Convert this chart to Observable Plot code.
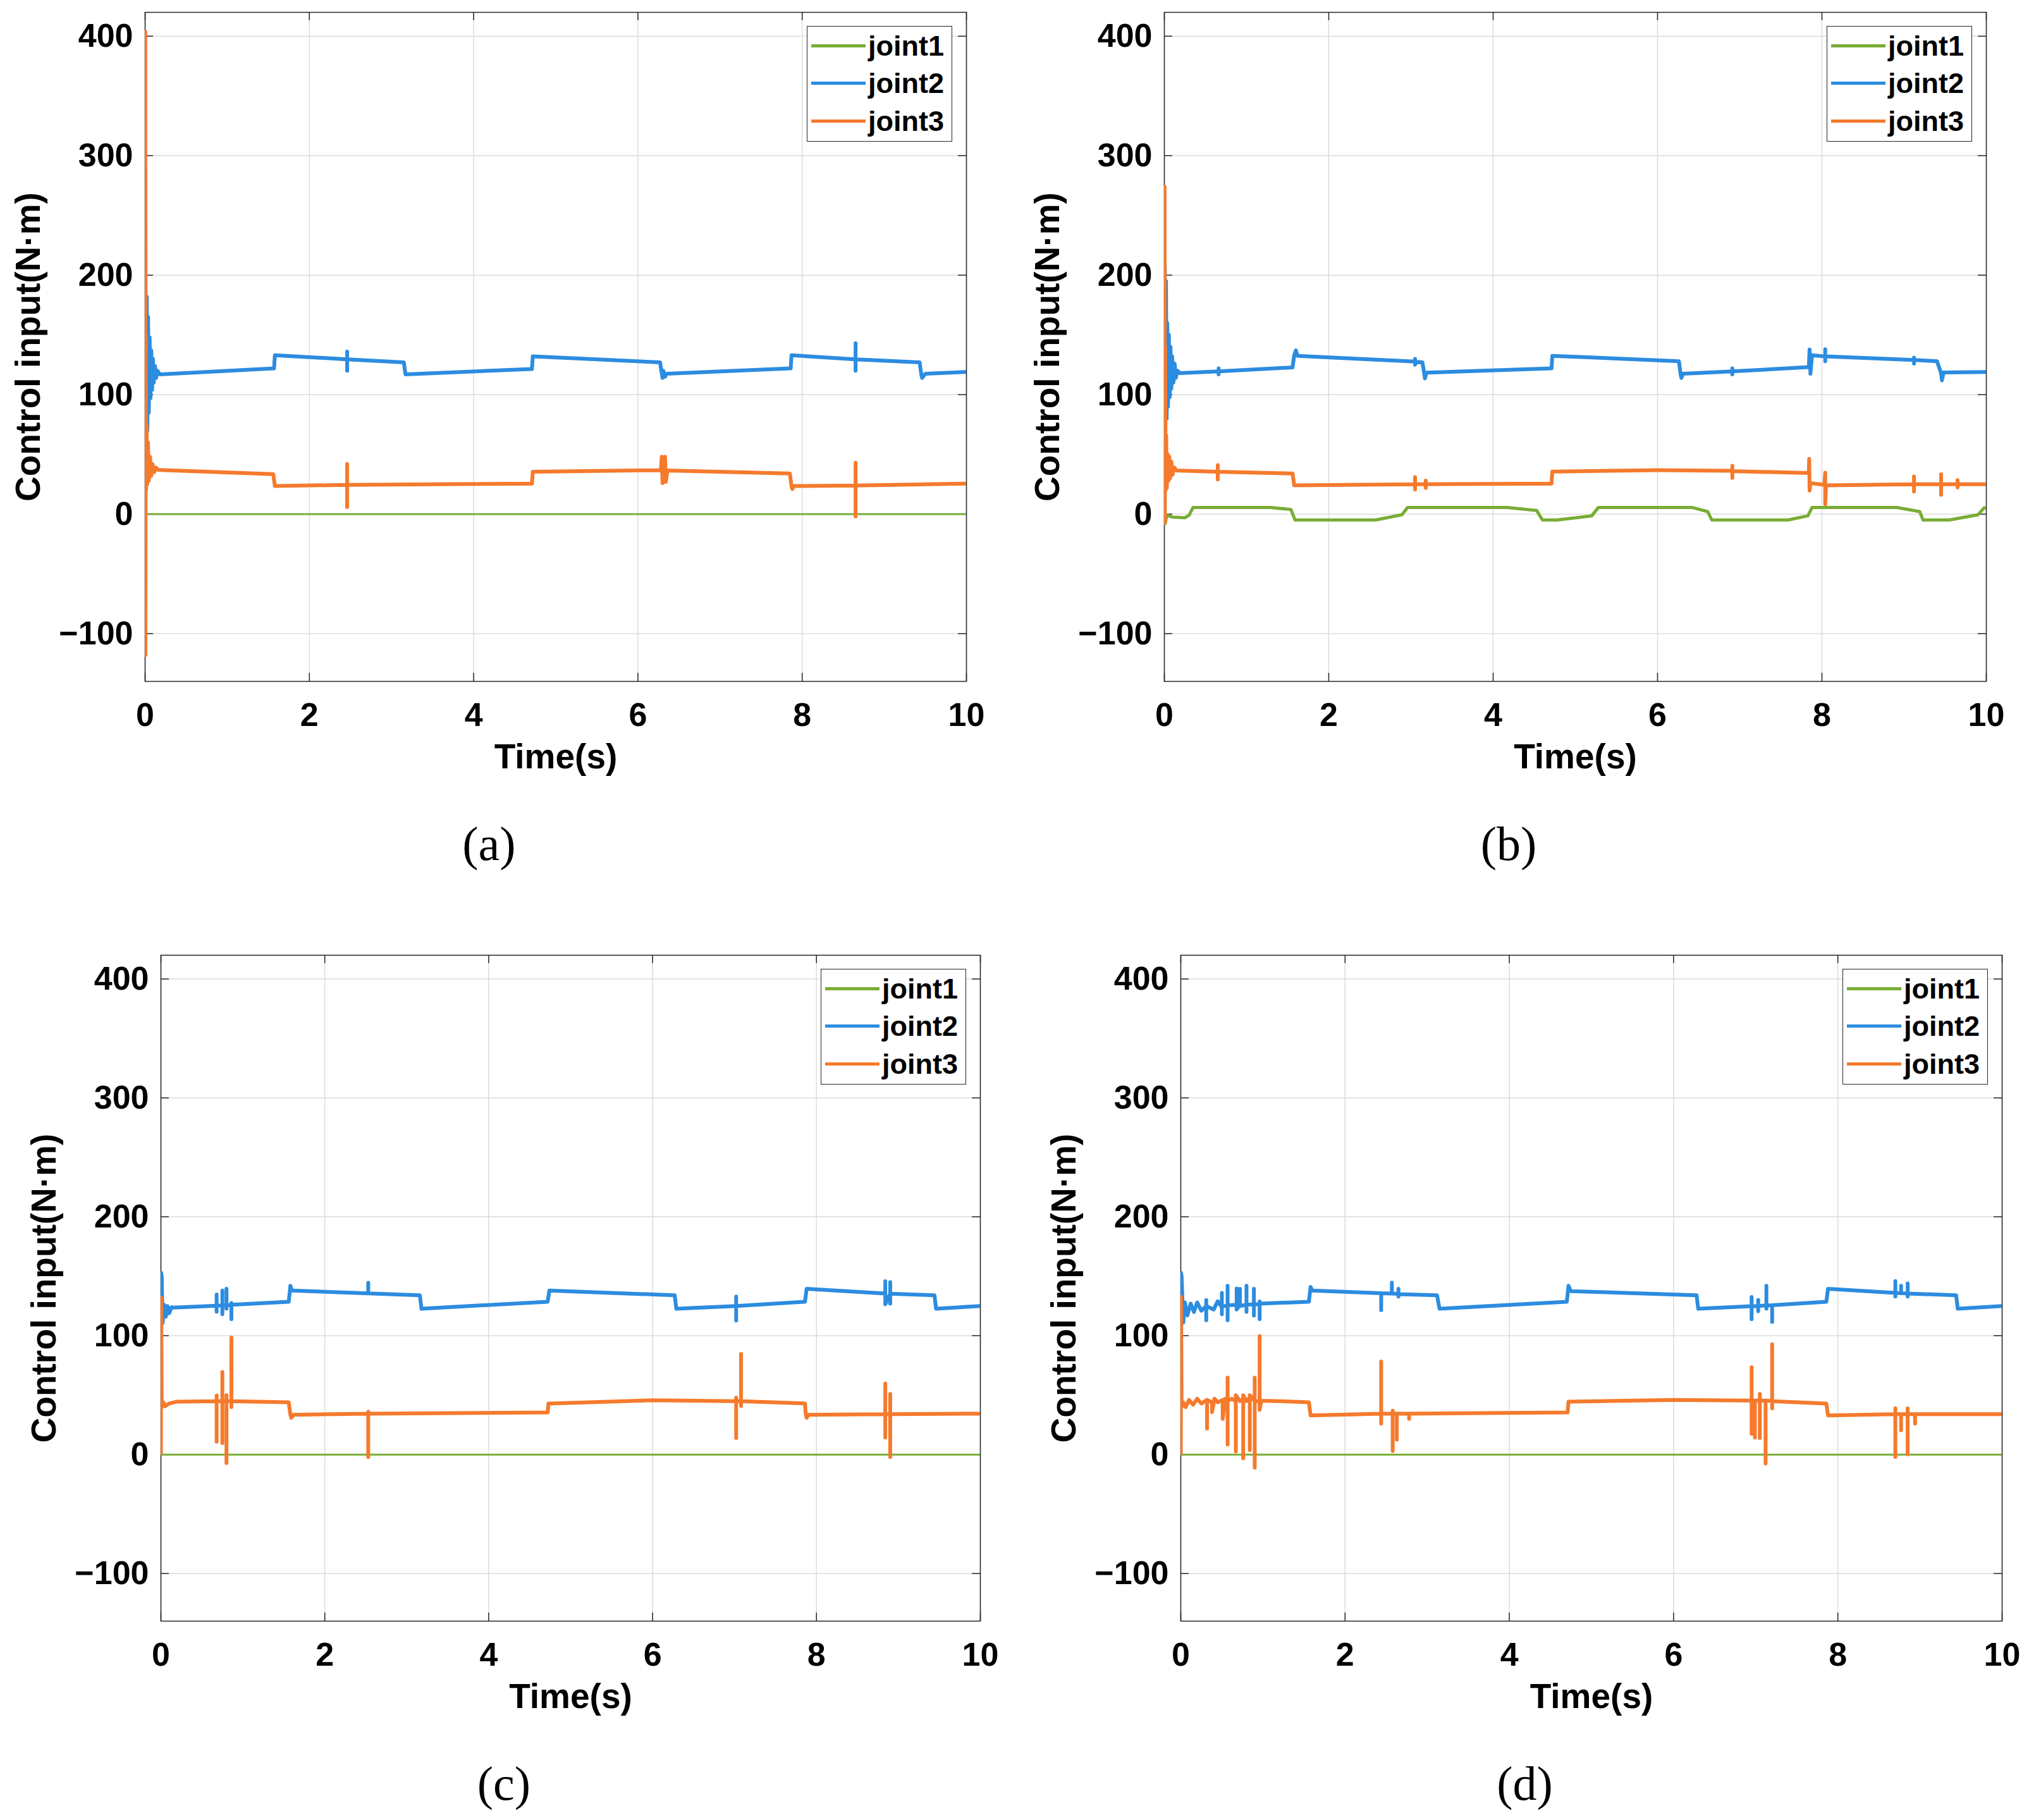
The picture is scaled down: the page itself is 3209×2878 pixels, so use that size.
<!DOCTYPE html>
<html>
<head>
<meta charset="utf-8">
<script src="https://cdn.jsdelivr.net/npm/d3@7"></script>
<script src="https://cdn.jsdelivr.net/npm/@observablehq/plot@0.6"></script>
<style>
  html, body { margin: 0; padding: 0; background: #fff; }
  #fig { position: relative; width: 3209px; height: 2878px; background: #fff; overflow: hidden; }
  .panel { position: absolute; }
  .legend { position: absolute; background: #fff; border: 1.5px solid #262626; box-sizing: border-box;
            font-family: "Liberation Sans", Arial, Helvetica, sans-serif; font-weight: bold; font-size: 45px; color: #000; }
  .legend .sw { position: absolute; height: 5px; }
  .legend .lb { position: absolute; line-height: 50px; white-space: nowrap; }
  .caption { position: absolute; text-align: center; font-family: "Liberation Serif", "Times New Roman", serif;
             font-size: 76px; line-height: 90px; color: #000; }
</style>
</head>
<body>
<div id="fig"></div>
<script>
// ---------- labels / ticks ----------
const SERIES = ["joint1", "joint2", "joint3"];
const X_TICKS = [0, 2, 4, 6, 8, 10];
const Y_TICKS = [-100, 0, 100, 200, 300, 400];
const CAPTIONS = ["(a)", "(b)", "(c)", "(d)"];
const X_LABEL = "Time(s)";
const Y_LABEL = "Control input(N\u00B7m)";

// ---------- panel (a) : [time, value] ----------
const A_J1 = [[0,0],[10,0]];
const A_J2 = [[0,118],[0.003,290],[0.005,193],[0.012,62],[0.02,182],[0.028,70],[0.036,165],[0.045,85],[0.055,148],[0.065,97],[0.075,137],[0.085,104],[0.095,130],[0.105,110],[0.12,124],[0.135,114],[0.15,120],[0.18,117],
  [1.57,122],[1.58,133],[2.46,129.6],[2.46,136],[2.46,120],[2.46,129.6],[3.15,127],[3.17,117],[4.71,121.5],[4.72,132],
  [6.27,127],[6.29,118],[6.3,114],[6.31,120],[6.33,115],[6.35,117.5],[7.86,122],[7.87,133],[8.65,129.5],[8.65,143],[8.65,120],[8.65,129.5],
  [9.43,127],[9.45,117],[9.46,114],[9.5,117.5],[10,119]];
const A_J3 = [[0,0],[0.002,404],[0.004,-118],[0.008,150],[0.012,20],[0.018,75],[0.025,25],[0.035,60],[0.045,28],[0.06,48],[0.075,32],[0.09,42],[0.11,35],[0.13,39],[0.16,37],
  [1.56,33.5],[1.58,23.5],[2.46,24.5],[2.46,42],[2.46,6],[2.46,24.5],[4.71,25.5],[4.72,35.5],[6.28,36.8],[6.29,48],[6.3,26],[6.31,47],[6.32,28],[6.33,48],[6.34,27],[6.36,36.5],
  [7.85,34],[7.87,23.5],[7.88,21],[7.9,23.5],[8.65,24],[8.65,43],[8.65,-2],[8.65,24],[10,25.5]];

// ---------- panel (b) ----------
const B_J1 = [[0,0],[0.01,-8],[0.03,-1],[0.1,-2.5],[0.25,-3],[0.3,-1],[0.35,5.6],[1.29,5.6],[1.54,3.9],[1.59,-4.9],[2.57,-4.9],[2.89,-0.5],[2.96,5.6],
  [4.17,5.6],[4.53,3.0],[4.6,-4.9],[4.78,-4.9],[5.2,-1.4],[5.28,5.6],[6.42,5.6],[6.61,2.1],[6.66,-4.9],[7.59,-4.9],[7.83,-1.4],[7.88,5.6],
  [8.91,5.6],[9.19,2.1],[9.23,-4.9],[9.55,-4.9],[9.9,-0.5],[9.97,5],[10,5.5]];
const B_J2 = [[0,118],[0.003,120],[0.006,208],[0.012,70],[0.02,195],[0.028,80],[0.036,160],[0.045,90],[0.055,150],[0.065,98],[0.075,140],[0.085,105],[0.095,132],[0.11,110],[0.125,126],[0.14,114],[0.16,120],[0.19,118],
  [0.66,119.5],[0.66,122],[0.66,117],[0.66,119.5],[1.56,122.8],[1.58,133],[1.6,137],[1.62,132.5],[3.05,127.7],[3.05,130],[3.05,125],[3.05,127.7],
  [3.14,127],[3.16,118.5],[3.17,113.6],[3.19,118.4],[4.71,122],[4.72,132.5],[6.26,128],[6.28,117.5],[6.29,114],[6.31,117.5],
  [6.91,119.5],[6.91,122],[6.91,117],[6.91,119.5],[7.84,123],[7.85,137.8],[7.86,117.5],[7.88,133],[8.04,132],[8.04,138],[8.04,128],[8.04,132],
  [9.12,129],[9.12,131],[9.12,126],[9.12,129],[9.4,128],[9.45,118],[9.46,112],[9.48,118.5],[10,119]];
const B_J3 = [[0,0],[0.003,274],[0.006,-7],[0.01,140],[0.015,20],[0.022,66],[0.03,22],[0.04,50],[0.05,28],[0.06,48],[0.07,30],[0.085,44],[0.1,33],[0.12,39],[0.15,36.5],
  [0.65,35.5],[0.65,41],[0.65,29],[0.65,35.5],[1.56,34],[1.58,24.1],[3.05,25],[3.05,31],[3.05,20.6],[3.05,25],[3.18,25],[3.18,28],[3.18,22],[3.18,25],
  [4.71,25.5],[4.72,35.6],[6.0,36.8],[6.91,36.3],[6.91,40.5],[6.91,30.3],[6.91,36],[7.84,34.4],[7.845,46.2],[7.85,19.7],[7.86,26],
  [8.03,24.5],[8.04,34.7],[8.04,8.3],[8.05,24.1],[9.12,25],[9.12,31.5],[9.12,18.9],[9.12,25],[9.45,25],[9.45,33.3],[9.45,16.2],[9.45,25],
  [9.65,25],[9.65,28.5],[9.65,22.4],[9.65,25],[10,25]];

// ---------- panel (c) ----------
const C_J1 = [[0,0],[10,0]];
const C_J2 = [[0,154],[0.01,150],[0.02,110.6],[0.04,126],[0.06,116],[0.08,125],[0.1,119],[0.13,124],[0.15,123.6],
  [0.68,125.3],[0.68,134.7],[0.68,120.2],[0.68,125.3],[0.75,125.5],[0.75,138],[0.75,118],[0.75,125.5],[0.8,125.7],[0.8,139.5],[0.8,122.7],[0.8,125.7],
  [0.86,126],[0.86,127.5],[0.86,114],[0.86,126],[1.56,128.6],[1.58,142],[1.6,138],[2.53,135.6],[2.53,144.5],[2.53,135.6],[3.16,134],[3.18,122.7],
  [4.72,128.6],[4.74,138],[6.27,134],[6.29,122.7],[7.02,125],[7.02,133],[7.02,112.7],[7.02,125],[7.86,128.6],[7.88,139.5],
  [8.84,135.5],[8.84,145.8],[8.84,126.5],[8.9,135.5],[8.9,145],[8.9,127],[8.9,135.4],[9.44,134],[9.46,122.7],[10,125]];
const C_J3 = [[0,0],[0.004,132],[0.01,40],[0.03,44],[0.05,40.7],[0.1,43],[0.2,44.6],
  [0.68,45],[0.68,49.7],[0.68,10.9],[0.68,45],[0.75,45],[0.75,69.5],[0.75,9.7],[0.75,45],[0.8,45],[0.8,50],[0.8,-7],[0.8,45],[0.86,45],[0.86,98.5],[0.86,40],[0.86,45],
  [1.56,44],[1.58,33.5],[1.59,31],[1.62,33.5],[2.53,34.5],[2.53,36],[2.53,-2],[2.53,34.5],[4.72,35.5],[4.73,43],[6.0,45.7],
  [7.02,45],[7.02,48],[7.02,14],[7.02,45],[7.08,45],[7.08,84.7],[7.08,41],[7.08,45],[7.86,43],[7.87,33.5],[7.88,31],[7.9,33.5],
  [8.84,34],[8.84,59.8],[8.84,14.4],[8.84,34],[8.9,34],[8.9,51],[8.9,-2],[8.9,34],[10,34.5]];

// ---------- panel (d) ----------
const D_J1 = [[0,0],[10,0]];
const D_J2 = [[0,154],[0.01,150],[0.03,111],[0.05,128],[0.08,117],[0.12,127],[0.16,120],[0.2,128],[0.25,121],[0.31,125],[0.31,130],[0.31,113],[0.31,125],
  [0.4,122],[0.45,129],[0.5,124],[0.5,136],[0.5,118],[0.5,125],[0.57,125],[0.57,142],[0.57,113],[0.57,125.5],[0.68,126],[0.68,139.7],[0.68,122],
  [0.72,126],[0.72,139.5],[0.72,125],[0.8,126],[0.8,142],[0.8,120],[0.8,126],[0.89,126.5],[0.89,139.5],[0.89,117],[0.89,126.5],
  [0.96,126.5],[0.96,128.8],[0.96,114],[0.96,127],[1.56,128.6],[1.58,141],[1.6,138],
  [2.44,135.8],[2.44,121.5],[2.44,135.8],[2.57,135.5],[2.57,144.7],[2.57,135.5],[2.65,135.2],[2.65,139.5],[2.65,133],[2.65,135],
  [3.12,134],[3.15,122.7],[4.7,128.6],[4.72,142],[4.75,137.5],[6.28,134],[6.3,122.7],
  [6.95,124.8],[6.95,132.5],[6.95,114],[6.95,124.8],[7.03,125],[7.03,130],[7.03,120.6],[7.03,125],[7.13,125.5],[7.13,142],[7.13,122.7],[7.13,125.5],
  [7.2,125.6],[7.2,111.6],[7.2,125.6],[7.86,128.6],[7.88,139.5],[8.7,136],[8.7,146],[8.7,133],[8.7,136],[8.77,135.8],[8.77,142],[8.77,135.8],
  [8.85,135.6],[8.85,144],[8.85,133],[8.85,135.5],[9.44,134],[9.46,122.7],[10,125]];
const D_J3 = [[0,0],[0.004,132.7],[0.01,40],[0.03,44],[0.06,40],[0.1,46],[0.15,42],[0.2,47],[0.25,43],[0.32,46],[0.32,22],[0.32,46],
  [0.38,44],[0.38,35.7],[0.41,47],[0.45,44],[0.51,46],[0.51,30],[0.54,47],[0.57,45],[0.57,64.8],[0.57,8.5],[0.57,45],[0.62,47],
  [0.67,45],[0.67,2.7],[0.67,50],[0.72,45],[0.76,47],[0.76,-3.1],[0.76,50],[0.8,45],[0.84,48],[0.84,3.9],[0.84,50],
  [0.9,45],[0.9,64.8],[0.9,-10.9],[0.9,45],[0.96,45],[0.96,99.7],[0.96,37.6],[0.98,45.4],[1.2,45],[1.56,44],[1.58,33],
  [2.44,34.5],[2.44,78.3],[2.44,26],[2.44,34.5],[2.58,34.5],[2.58,37],[2.58,3],[2.58,34.5],[2.63,34.5],[2.63,12.6],[2.63,34.5],[2.78,34.5],[2.78,30],[2.78,34.5],
  [4.71,35.5],[4.72,44.5],[6.0,46],[6.95,45.5],[6.95,73.5],[6.95,17.6],[6.95,45.5],[6.99,45.5],[6.99,14.4],[6.99,45.5],
  [7.05,45.5],[7.05,51],[7.05,14],[7.05,45.5],[7.12,45.5],[7.12,-7.5],[7.12,45.5],[7.2,45],[7.2,92.8],[7.2,39],[7.2,45],
  [7.86,43],[7.88,33],[8.7,34],[8.7,39],[8.7,-2],[8.7,34],[8.77,34],[8.77,20.5],[8.77,34],[8.85,34],[8.85,39],[8.85,0.3],[8.85,34],
  [8.94,34],[8.94,26],[8.94,34],[10,34]];

// ---------- styling ----------
const COLORS = ["#78AD34", "#2C8CE0", "#F57A2C"];
const FONT = "'Liberation Sans', Arial, Helvetica, sans-serif";
const INK = "#262626";

const panels = [
  {L: 229,  T: 19,   W: 1299, H: 1058, series: [A_J1, A_J2, A_J3], w1: 3},
  {L: 1841, T: 19,   W: 1300, H: 1058, series: [B_J1, B_J2, B_J3], w1: 5},
  {L: 254,  T: 1510, W: 1296, H: 1053, series: [C_J1, C_J2, C_J3], w1: 3},
  {L: 1867, T: 1510, W: 1299, H: 1053, series: [D_J1, D_J2, D_J3], w1: 3}
];

const ML = 229, MT = 19, MR = 72, MB = 183, TICK = 13;
const fig = document.getElementById("fig");

panels.forEach((p, idx) => {
  const width = ML + p.W + MR, height = MT + p.H + MB;
  const lineMarks = p.series.map((arr, i) =>
    Plot.line(arr, {x: d => d[0], y: d => d[1], stroke: COLORS[i], strokeWidth: i === 0 ? p.w1 : 6,
                    strokeLinejoin: "round", strokeLinecap: "butt", clip: true}));
  const chart = Plot.plot({
    width, height,
    marginLeft: ML, marginRight: MR, marginTop: MT, marginBottom: MB,
    style: {fontFamily: FONT, fontWeight: "bold", fontSize: "52px", color: "#000", background: "transparent", overflow: "visible"},
    x: {domain: [0, 10], ticks: X_TICKS, label: null},
    y: {domain: [-140, 420], ticks: Y_TICKS, label: null},
    marks: [
      Plot.gridX({ticks: X_TICKS, stroke: "#dcdcdc", strokeOpacity: 1, strokeWidth: 1.5}),
      Plot.gridY({ticks: Y_TICKS, stroke: "#dcdcdc", strokeOpacity: 1, strokeWidth: 1.5}),
      Plot.frame({stroke: INK, strokeWidth: 1.5}),
      Plot.ruleX(X_TICKS, {x: d => d, stroke: INK, strokeWidth: 1.5, insetTop: p.H - TICK}),
      Plot.ruleX(X_TICKS, {x: d => d, stroke: INK, strokeWidth: 1.5, insetBottom: p.H - TICK}),
      Plot.ruleY(Y_TICKS, {y: d => d, stroke: INK, strokeWidth: 1.5, insetRight: p.W - TICK}),
      Plot.ruleY(Y_TICKS, {y: d => d, stroke: INK, strokeWidth: 1.5, insetLeft: p.W - TICK}),
      ...lineMarks,
      Plot.axisX({ticks: X_TICKS, tickSize: 0, tickPadding: 34, label: null, fontSize: 52, fontWeight: "bold", fill: "#000"}),
      Plot.axisY({ticks: Y_TICKS, tickSize: 0, tickPadding: 19, label: null, fontSize: 52, fontWeight: "bold", fill: "#000"}),
      Plot.text([X_LABEL], {text: d => d, frameAnchor: "bottom", dy: 120, textAnchor: "middle", lineAnchor: "middle", fontSize: 55, fontWeight: "bold", fill: "#000"}),
      Plot.text([Y_LABEL], {text: d => d, frameAnchor: "left", dx: -184, rotate: -90, textAnchor: "middle", lineAnchor: "middle", fontSize: 55, fontWeight: "bold", fill: "#000"})
    ]
  });

  const div = document.createElement("div");
  div.className = "panel";
  div.style.left = (p.L - ML) + "px";
  div.style.top = (p.T - MT) + "px";
  div.style.width = width + "px";
  div.style.height = height + "px";
  div.appendChild(chart);

  // legend
  const lg = document.createElement("div");
  lg.className = "legend";
  const LW = 230, LH = 183;
  lg.style.left = (ML + p.W - 22 - LW) + "px";
  lg.style.top = (MT + 22) + "px";
  lg.style.width = LW + "px";
  lg.style.height = LH + "px";
  const rowsY = [32, 91, 151];
  SERIES.forEach((name, i) => {
    const sw = document.createElement("div");
    sw.className = "sw";
    sw.style.left = "6px"; sw.style.width = "86px";
    sw.style.top = (rowsY[i] - 2.5 - 1.5) + "px";
    sw.style.background = COLORS[i];
    lg.appendChild(sw);
    const lb = document.createElement("div");
    lb.className = "lb";
    lb.style.left = "96px";
    lb.style.top = (rowsY[i] - 25 - 1.5) + "px";
    lb.textContent = name;
    lg.appendChild(lb);
  });
  div.appendChild(lg);

  // caption
  const cap = document.createElement("div");
  cap.className = "caption";
  const cx = ML + p.W / 2 - 105, cy = MT + p.H + 257;
  cap.style.left = (cx - 200) + "px";
  cap.style.width = "400px";
  cap.style.top = (cy - 45) + "px";
  cap.textContent = CAPTIONS[idx];
  div.appendChild(cap);

  fig.appendChild(div);
});
</script>
</body>
</html>
